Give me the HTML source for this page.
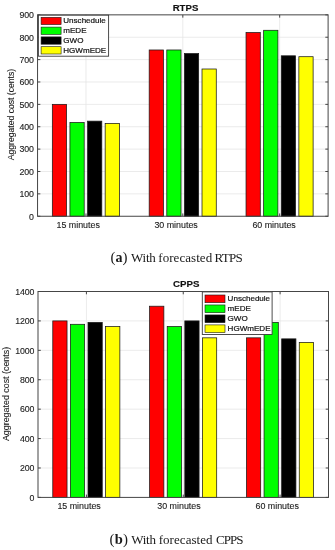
<!DOCTYPE html>
<html><head><meta charset="utf-8"><title>Aggregated cost</title>
<style>
html,body{margin:0;padding:0;background:#fff;}
body{width:335px;height:550px;overflow:hidden;position:relative;}
svg{position:absolute;left:0;top:0;display:block;font-family:"Liberation Sans",sans-serif;}
.cap{position:absolute;font-family:"Liberation Serif",serif;font-size:13px;color:#1a1a1a;white-space:nowrap;line-height:16px;}
</style></head><body>
<svg width="335" height="550" viewBox="0 0 335 550">
<g stroke="#e4e4e4" stroke-width="0.75"><line x1="85.97" y1="14.85" x2="85.97" y2="216.25"/><line x1="182.82" y1="14.85" x2="182.82" y2="216.25"/><line x1="279.68" y1="14.85" x2="279.68" y2="216.25"/><line x1="37.55" y1="193.87" x2="328.1" y2="193.87"/><line x1="37.55" y1="171.49" x2="328.1" y2="171.49"/><line x1="37.55" y1="149.12" x2="328.1" y2="149.12"/><line x1="37.55" y1="126.74" x2="328.1" y2="126.74"/><line x1="37.55" y1="104.36" x2="328.1" y2="104.36"/><line x1="37.55" y1="81.98" x2="328.1" y2="81.98"/><line x1="37.55" y1="59.61" x2="328.1" y2="59.61"/><line x1="37.55" y1="37.23" x2="328.1" y2="37.23"/></g>
<g stroke="#1a1a1a" stroke-width="0.75"><rect x="52.33" y="104.36" width="14.26" height="111.89" fill="#ff0000"/><rect x="69.94" y="122.49" width="14.26" height="93.76" fill="#00ff00"/><rect x="87.55" y="121.14" width="14.26" height="95.11" fill="#000000"/><rect x="105.16" y="123.38" width="14.26" height="92.87" fill="#ffff00"/><rect x="149.18" y="49.98" width="14.26" height="166.27" fill="#ff0000"/><rect x="166.79" y="49.98" width="14.26" height="166.27" fill="#00ff00"/><rect x="184.40" y="53.56" width="14.26" height="162.69" fill="#000000"/><rect x="202.01" y="69.00" width="14.26" height="147.25" fill="#ffff00"/><rect x="246.03" y="32.53" width="14.26" height="183.72" fill="#ff0000"/><rect x="263.64" y="30.29" width="14.26" height="185.96" fill="#00ff00"/><rect x="281.25" y="55.80" width="14.26" height="160.45" fill="#000000"/><rect x="298.86" y="56.70" width="14.26" height="159.55" fill="#ffff00"/></g>
<g stroke="#454545" stroke-width="1" fill="none"><rect x="37.55" y="14.85" width="290.55" height="201.40" fill="none"/><line x1="85.97" y1="216.25" x2="85.97" y2="213.45"/><line x1="85.97" y1="14.85" x2="85.97" y2="17.65"/><line x1="182.82" y1="216.25" x2="182.82" y2="213.45"/><line x1="182.82" y1="14.85" x2="182.82" y2="17.65"/><line x1="279.68" y1="216.25" x2="279.68" y2="213.45"/><line x1="279.68" y1="14.85" x2="279.68" y2="17.65"/><line x1="37.55" y1="216.25" x2="40.35" y2="216.25"/><line x1="328.1" y1="216.25" x2="325.30" y2="216.25"/><line x1="37.55" y1="193.87" x2="40.35" y2="193.87"/><line x1="328.1" y1="193.87" x2="325.30" y2="193.87"/><line x1="37.55" y1="171.49" x2="40.35" y2="171.49"/><line x1="328.1" y1="171.49" x2="325.30" y2="171.49"/><line x1="37.55" y1="149.12" x2="40.35" y2="149.12"/><line x1="328.1" y1="149.12" x2="325.30" y2="149.12"/><line x1="37.55" y1="126.74" x2="40.35" y2="126.74"/><line x1="328.1" y1="126.74" x2="325.30" y2="126.74"/><line x1="37.55" y1="104.36" x2="40.35" y2="104.36"/><line x1="328.1" y1="104.36" x2="325.30" y2="104.36"/><line x1="37.55" y1="81.98" x2="40.35" y2="81.98"/><line x1="328.1" y1="81.98" x2="325.30" y2="81.98"/><line x1="37.55" y1="59.61" x2="40.35" y2="59.61"/><line x1="328.1" y1="59.61" x2="325.30" y2="59.61"/><line x1="37.55" y1="37.23" x2="40.35" y2="37.23"/><line x1="328.1" y1="37.23" x2="325.30" y2="37.23"/><line x1="37.55" y1="14.85" x2="40.35" y2="14.85"/><line x1="328.1" y1="14.85" x2="325.30" y2="14.85"/></g>
<g font-size="8.8" fill="#222" stroke="#222" stroke-width="0.12"><g letter-spacing="-0.12"><text x="33.85" y="219.55" text-anchor="end">0</text><text x="33.85" y="197.17" text-anchor="end">100</text><text x="33.85" y="174.79" text-anchor="end">200</text><text x="33.85" y="152.42" text-anchor="end">300</text><text x="33.85" y="130.04" text-anchor="end">400</text><text x="33.85" y="107.66" text-anchor="end">500</text><text x="33.85" y="85.28" text-anchor="end">600</text><text x="33.85" y="62.91" text-anchor="end">700</text><text x="33.85" y="40.53" text-anchor="end">800</text><text x="33.85" y="18.15" text-anchor="end">900</text></g>
<text x="78.20" y="228.3" text-anchor="middle" font-size="8.9">15 minutes</text>
<text x="176.10" y="228.3" text-anchor="middle" font-size="8.9">30 minutes</text>
<text x="274.10" y="228.3" text-anchor="middle" font-size="8.9">60 minutes</text>
</g>
<text transform="translate(13.7,114.55) rotate(-90)" text-anchor="middle" font-size="8.6" fill="#222" stroke="#222" stroke-width="0.1">Aggregated cost (cents)</text>
<text x="185.5" y="10.8" text-anchor="middle" font-size="9.65" font-weight="bold" fill="#111" stroke="#111" stroke-width="0.15">RTPS</text>
<rect x="38.4" y="15.2" width="70.2" height="41.0" fill="#fff" stroke="#3a3a3a" stroke-width="0.9"/>
<rect x="41.10" y="17.30" width="20" height="7.3" fill="#ff0000" stroke="#1a1a1a" stroke-width="0.6"/>
<text x="63.30" y="23.45" font-size="8.05" fill="#111" stroke="#111" stroke-width="0.2">Unschedule</text>
<rect x="41.10" y="27.10" width="20" height="7.3" fill="#00ff00" stroke="#1a1a1a" stroke-width="0.6"/>
<text x="63.30" y="33.25" font-size="8.05" fill="#111" stroke="#111" stroke-width="0.2">mEDE</text>
<rect x="41.10" y="36.90" width="20" height="7.3" fill="#000000" stroke="#1a1a1a" stroke-width="0.6"/>
<text x="63.30" y="43.05" font-size="8.05" fill="#111" stroke="#111" stroke-width="0.2">GWO</text>
<rect x="41.10" y="46.70" width="20" height="7.3" fill="#ffff00" stroke="#1a1a1a" stroke-width="0.6"/>
<text x="63.30" y="52.85" font-size="8.05" fill="#111" stroke="#111" stroke-width="0.2">HGWmEDE</text>
<g stroke="#e4e4e4" stroke-width="0.75"><line x1="86.42" y1="291.5" x2="86.42" y2="497.4"/><line x1="183.25" y1="291.5" x2="183.25" y2="497.4"/><line x1="280.08" y1="291.5" x2="280.08" y2="497.4"/><line x1="38.0" y1="467.99" x2="328.5" y2="467.99"/><line x1="38.0" y1="438.57" x2="328.5" y2="438.57"/><line x1="38.0" y1="409.16" x2="328.5" y2="409.16"/><line x1="38.0" y1="379.74" x2="328.5" y2="379.74"/><line x1="38.0" y1="350.33" x2="328.5" y2="350.33"/><line x1="38.0" y1="320.91" x2="328.5" y2="320.91"/></g>
<g stroke="#1a1a1a" stroke-width="0.75"><rect x="52.78" y="320.91" width="14.26" height="176.49" fill="#ff0000"/><rect x="70.38" y="324.30" width="14.26" height="173.10" fill="#00ff00"/><rect x="87.99" y="322.38" width="14.26" height="175.01" fill="#000000"/><rect x="105.60" y="326.50" width="14.26" height="170.90" fill="#ffff00"/><rect x="149.61" y="306.21" width="14.26" height="191.19" fill="#ff0000"/><rect x="167.22" y="326.50" width="14.26" height="170.90" fill="#00ff00"/><rect x="184.82" y="320.91" width="14.26" height="176.49" fill="#000000"/><rect x="202.43" y="337.83" width="14.26" height="159.57" fill="#ffff00"/><rect x="246.44" y="337.83" width="14.26" height="159.57" fill="#ff0000"/><rect x="264.05" y="322.38" width="14.26" height="175.01" fill="#00ff00"/><rect x="281.66" y="338.86" width="14.26" height="158.54" fill="#000000"/><rect x="299.26" y="342.39" width="14.26" height="155.01" fill="#ffff00"/></g>
<g stroke="#454545" stroke-width="1" fill="none"><rect x="38.0" y="291.5" width="290.50" height="205.90" fill="none"/><line x1="86.42" y1="497.4" x2="86.42" y2="494.60"/><line x1="86.42" y1="291.5" x2="86.42" y2="294.30"/><line x1="183.25" y1="497.4" x2="183.25" y2="494.60"/><line x1="183.25" y1="291.5" x2="183.25" y2="294.30"/><line x1="280.08" y1="497.4" x2="280.08" y2="494.60"/><line x1="280.08" y1="291.5" x2="280.08" y2="294.30"/><line x1="38.0" y1="497.40" x2="40.80" y2="497.40"/><line x1="328.5" y1="497.40" x2="325.70" y2="497.40"/><line x1="38.0" y1="467.99" x2="40.80" y2="467.99"/><line x1="328.5" y1="467.99" x2="325.70" y2="467.99"/><line x1="38.0" y1="438.57" x2="40.80" y2="438.57"/><line x1="328.5" y1="438.57" x2="325.70" y2="438.57"/><line x1="38.0" y1="409.16" x2="40.80" y2="409.16"/><line x1="328.5" y1="409.16" x2="325.70" y2="409.16"/><line x1="38.0" y1="379.74" x2="40.80" y2="379.74"/><line x1="328.5" y1="379.74" x2="325.70" y2="379.74"/><line x1="38.0" y1="350.33" x2="40.80" y2="350.33"/><line x1="328.5" y1="350.33" x2="325.70" y2="350.33"/><line x1="38.0" y1="320.91" x2="40.80" y2="320.91"/><line x1="328.5" y1="320.91" x2="325.70" y2="320.91"/><line x1="38.0" y1="291.50" x2="40.80" y2="291.50"/><line x1="328.5" y1="291.50" x2="325.70" y2="291.50"/></g>
<g font-size="8.8" fill="#222" stroke="#222" stroke-width="0.12"><g letter-spacing="-0.12"><text x="34.30" y="500.70" text-anchor="end">0</text><text x="34.30" y="471.29" text-anchor="end">200</text><text x="34.30" y="441.87" text-anchor="end">400</text><text x="34.30" y="412.46" text-anchor="end">600</text><text x="34.30" y="383.04" text-anchor="end">800</text><text x="34.30" y="353.63" text-anchor="end">1000</text><text x="34.30" y="324.21" text-anchor="end">1200</text><text x="34.30" y="294.80" text-anchor="end">1400</text></g>
<text x="79.10" y="509.1" text-anchor="middle" font-size="8.9">15 minutes</text>
<text x="179.00" y="509.1" text-anchor="middle" font-size="8.9">30 minutes</text>
<text x="277.20" y="509.1" text-anchor="middle" font-size="8.9">60 minutes</text>
</g>
<text transform="translate(9.4,393.95) rotate(-90)" text-anchor="middle" font-size="8.9" fill="#222" stroke="#222" stroke-width="0.1">Aggregated cost (cents)</text>
<text x="186.2" y="287.3" text-anchor="middle" font-size="9.7" font-weight="bold" fill="#111" stroke="#111" stroke-width="0.15">CPPS</text>
<rect x="202.3" y="291.9" width="69.8" height="42.6" fill="#fff" stroke="#3a3a3a" stroke-width="0.9"/>
<rect x="205.00" y="295.00" width="20" height="7.7" fill="#ff0000" stroke="#1a1a1a" stroke-width="0.6"/>
<text x="227.60" y="301.45" font-size="8.05" fill="#111" stroke="#111" stroke-width="0.2">Unschedule</text>
<rect x="205.00" y="304.97" width="20" height="7.7" fill="#00ff00" stroke="#1a1a1a" stroke-width="0.6"/>
<text x="227.60" y="311.42" font-size="8.05" fill="#111" stroke="#111" stroke-width="0.2">mEDE</text>
<rect x="205.00" y="314.94" width="20" height="7.7" fill="#000000" stroke="#1a1a1a" stroke-width="0.6"/>
<text x="227.60" y="321.39" font-size="8.05" fill="#111" stroke="#111" stroke-width="0.2">GWO</text>
<rect x="205.00" y="324.91" width="20" height="7.7" fill="#ffff00" stroke="#1a1a1a" stroke-width="0.6"/>
<text x="227.60" y="331.36" font-size="8.05" fill="#111" stroke="#111" stroke-width="0.2">HGWmEDE</text>
<g font-family="Liberation Serif, serif" font-size="13" fill="#1a1a1a">
<text x="110.6" y="262"><tspan font-size="15">(</tspan><tspan font-size="14" font-weight="bold">a</tspan><tspan font-size="15">)</tspan></text>
<text x="131.1" y="262" letter-spacing="-0.27">With</text>
<text x="158.3" y="262" letter-spacing="0.05">forecasted</text>
<text x="214.6" y="262" letter-spacing="-0.7">RTPS</text>
<text x="109.4" y="543.7"><tspan font-size="15">(</tspan><tspan font-size="14.5" font-weight="bold" dx="0.3">b</tspan><tspan font-size="15" dx="0.3">)</tspan></text>
<text x="131.3" y="543.7" letter-spacing="-0.27">With</text>
<text x="158.7" y="543.7" letter-spacing="0.05">forecasted</text>
<text x="216" y="543.7" letter-spacing="-1">CPPS</text>
</g>
</svg>
</body></html>
